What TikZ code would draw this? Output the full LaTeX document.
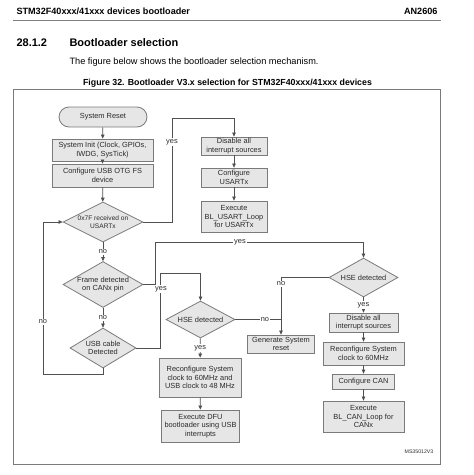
\documentclass[tikz,border=0pt]{standalone}
\usepackage{fontspec}
\setmainfont{Liberation Sans}
\usetikzlibrary{shapes.geometric,arrows.meta}
\definecolor{boxfill}{HTML}{E6E6E6}
\definecolor{boxline}{HTML}{7A7A7A}
\definecolor{conn}{HTML}{505050}
\definecolor{txtc}{HTML}{2A2A2A}
\begin{document}
\begin{tikzpicture}[x=1pt,y=-1pt,
  dtext/.style={font=\fontsize{7.4}{8.5}\selectfont, text=txtc, align=center},
  stext/.style={font=\fontsize{6.6}{8.3}\selectfont, text=txtc, align=center},
  box/.style={draw=boxline, fill=boxfill, line width=0.8pt, inner sep=0pt, dtext},
  dec/.style={diamond, draw=boxline, fill=boxfill, line width=0.8pt, inner sep=0pt},
  arr/.style={draw=conn, line width=0.75pt, -{Triangle[length=4pt,width=3.6pt]}},
  ln/.style={draw=conn, line width=0.75pt},
  lbl/.style={dtext, fill=white, inner sep=0.8pt}
]
\useasboundingbox (0,0) rectangle (474,475);
% header
\node[anchor=base west, font=\fontsize{9.1}{10}\bfseries\selectfont] (hdl) at (13,14) {STM32F40xxx/41xxx devices bootloader};
\node[anchor=base east, font=\fontsize{9.1}{10}\bfseries\selectfont] (hdr) at (441,14) {AN2606};
\draw[gray, line width=0.8pt] (13,20.5) -- (441,20.5);
\node[anchor=base west, font=\fontsize{11}{12}\bfseries\selectfont] (sec) at (13,46) {28.1.2};
\node[anchor=base west, font=\fontsize{11}{12}\bfseries\selectfont] (sect) at (66,46) {Bootloader selection};
\node[anchor=base west, font=\fontsize{9.2}{10}\selectfont] (intro) at (66,64) {The figure below shows the bootloader selection mechanism.};
\node[anchor=base, font=\fontsize{8.8}{10}\bfseries\selectfont] (cap) at (227.5,85) {Figure 32. Bootloader V3.x selection for STM32F40xxx/41xxx devices};
% frame
\draw[boxline, line width=0.9pt] (13,89) rectangle (440,464);

% nodes
\node[box, rounded corners=10pt, minimum width=88pt, minimum height=20pt] (reset) at (103,117) {System Reset};
\node[box, minimum width=101pt, minimum height=22pt] (init) at (102.5,150) {System Init (Clock, GPIOs,\\IWDG, SysTick)};
\node[box, minimum width=101pt, minimum height=23pt] (otg) at (102.5,175.5) {Configure USB OTG FS\\device};
\node[dec, minimum width=80pt, minimum height=40pt, label={[stext]center:{0x7F received on\\USARTx}}] (d1) at (103,222) {};
\node[dec, minimum width=80pt, minimum height=46pt, label={[dtext]center:{Frame detected\\on CANx pin}}] (d2) at (103,284.5) {};
\node[dec, minimum width=66pt, minimum height=40pt, label={[dtext]center:{USB cable\\Detected}}] (d3) at (103,348) {};

\node[box, minimum width=66pt, minimum height=18pt] (dis1) at (234,146) {Disable all\\interrupt sources};
\node[box, minimum width=66pt, minimum height=19pt] (cfgu) at (234,177.5) {Configure\\USARTx};
\node[box, minimum width=66pt, minimum height=31pt] (exu) at (234,216.5) {Execute\\BL\_USART\_Loop\\for USARTx};

\node[dec, minimum width=69pt, minimum height=37pt, label={[dtext]center:{HSE detected}}] (hse1) at (200.5,319.5) {};
\node[box, minimum width=82pt, minimum height=39pt] (rec1) at (200,377.5) {Reconfigure System\\clock to 60MHz and\\USB clock to 48 MHz};
\node[box, minimum width=78pt, minimum height=32pt] (dfu) at (200.5,426) {Execute DFU\\bootloader using USB\\interrupts};

\node[box, minimum width=67pt, minimum height=18pt] (gen) at (281,344) {Generate System\\reset};

\node[dec, minimum width=69pt, minimum height=39pt, label={[dtext]center:{HSE detected}}] (hse2) at (363.5,277.5) {};
\node[box, minimum width=69pt, minimum height=19pt] (dis2) at (363.5,322.5) {Disable all\\interrupt sources};
\node[box, minimum width=81pt, minimum height=23pt] (rec2) at (363.5,353.5) {Reconfigure System\\clock to 60MHz};
\node[box, minimum width=62pt, minimum height=15pt] (cfgc) at (363.5,381.5) {Configure CAN};
\node[box, minimum width=81pt, minimum height=31pt] (exc) at (363.5,416.5) {Execute\\BL\_CAN\_Loop for\\CANx};

\node[font=\fontsize{5.2}{6}\selectfont, text=txtc] (ms) at (419,452) {MS35012V3};

% corner coordinates
\coordinate (cy1) at (172,118);
\coordinate (cl1) at (43,374);
\coordinate (cf1) at (155,242);
\coordinate (cu1) at (160,273);
\coordinate (cn1) at (281,319.5);

% connectors
\draw[arr] (reset) -- (init);
\draw[arr] (init) -- (otg);
\draw[arr] (otg) -- (d1);
\draw[arr] (d1.east) -| (cy1) -| (dis1.north);
\draw[arr] (dis1) -- (cfgu);
\draw[arr] (cfgu) -- (exu);
\draw[arr] (d1) -- node[lbl]{no} (d2);
\draw[arr] (d2) -- node[lbl]{no} (d3);
\draw[arr] (d3.south) |- (cl1) |- (d1.west);
\draw[arr] (d2.east) -| (cf1) -| (hse2.north);
\draw[arr] (d3.east) -| (cu1) -| (hse1.north);
\draw[arr] (hse1) -- node[lbl]{yes} (rec1);
\draw[arr] (rec1) -- (dfu);
\draw[ln] (hse1.east) -- (cn1);
\draw[arr] (hse2.west) -| (gen.north);
\draw[arr] (hse2) -- node[lbl]{yes} (dis2);
\draw[arr] (dis2) -- (rec2);
\draw[arr] (rec2) -- (cfgc);
\draw[arr] (cfgc) -- (exc);

% labels on lines
\node[lbl] (ly1) at (172,142) {yes};
\node[lbl] (ln1) at (43,322) {no};
\node[lbl] (ly2) at (240,242) {yes};
\node[lbl] (ly3) at (161,289) {yes};
\node[lbl] (ln2) at (265,319.5) {no};
\node[lbl] (ln3) at (281,284) {no};
\end{tikzpicture}
\end{document}
